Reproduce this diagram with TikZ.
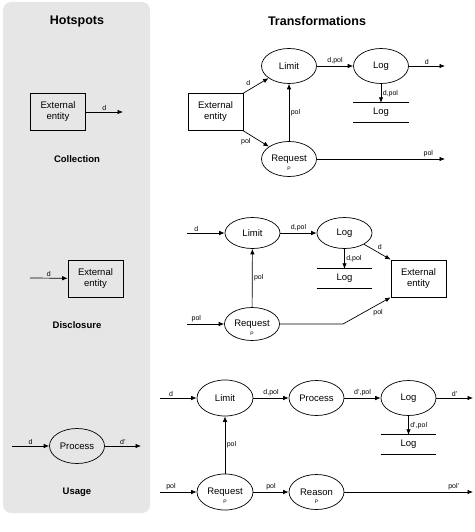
\documentclass[tikz,border=0pt]{standalone}
\usepackage{fontspec}
\setmainfont{Liberation Sans}
\usetikzlibrary{arrows.meta,shapes.geometric}
\definecolor{panelgray}{HTML}{E6E6E6}
\begin{document}
\begin{tikzpicture}[x=1pt,y=-1pt,
  every node/.style={font=\fontsize{9.5}{11}\selectfont},
  proc/.style={draw, ellipse, minimum width=55pt, minimum height=35pt, inner sep=0pt, line width=0.7pt},
  ent/.style={draw, rectangle, minimum width=55pt, minimum height=37pt, inner sep=1pt, align=center, line width=0.7pt},
  store/.style={minimum width=55pt, minimum height=19pt, inner sep=0pt},
  flow/.style={line width=0.7pt, -{Latex[length=5.5pt,width=4.5pt]}},
  lbl/.style={font=\fontsize{7}{8}\selectfont, inner sep=1.5pt},
  ptag/.style={font=\fontsize{5}{6}\selectfont, inner sep=0pt},
  title/.style={font=\fontsize{12.5}{14}\selectfont\bfseries},
  captxt/.style={font=\fontsize{9.5}{11}\selectfont\bfseries}]
\useasboundingbox (0,0) rectangle (474,532);
\fill[panelgray, rounded corners=8pt] (3,2) rectangle (150,513);

\node[title] (t1) at (77,21) {Hotspots};
\node[title] (t2) at (317,21) {Transformations};

% ---------- Hotspot: Collection
\node[ent] (h1) at (58,112) {External\\entity};
\coordinate (h1o) at (123,112);
\draw[flow] (h1) -- node[lbl, above] {d} (h1o);
\node[captxt] (c1) at (77,159) {Collection};

% ---------- Transformation 1
\node[ent] (e1) at (215.5,112) {External\\entity};
\node[proc] (l1) at (289,66) {Limit};
\node[proc] (g1) at (381,66) {Log};
\node[proc] (r1) at (289,159) {Request};
\node[ptag] (r1p) at (289,169) {P};
\node[store] (s1) at (381,112.5) {Log};
\draw[line width=0.7pt] (s1.north west) -- (s1.north east) (s1.south west) -- (s1.south east);
\coordinate (g1o) at (445,66);
\coordinate (r1o) at (445,159);
\draw[flow] (e1.north east) -- node[lbl, above left, pos=0.35] {d} (l1);
\draw[flow] (e1.south east) -- node[lbl, below left, pos=0.35] {pol} (r1);
\draw[flow] (r1) -- node[lbl, right, pos=0.5] {pol} (l1);
\draw[flow] (l1) -- node[lbl, above] {d,pol} (g1);
\draw[flow] (g1) -- node[lbl, above] {d} (g1o);
\draw[flow] (g1) -- node[lbl, right] {d,pol} (s1.north);
\draw[flow] (r1) -- node[lbl, above, pos=0.87] {pol} (r1o);

% ---------- Hotspot: Disclosure
\coordinate (h2i) at (30,278);
\node[ent] (h2) at (95.5,278.5) {External\\entity};
\draw[flow] (h2i) -- node[lbl, above] {d} (h2);
\node[captxt] (c2) at (77,325) {Disclosure};

% ---------- Transformation 2
\node[proc, minimum height=31pt] (l2) at (252.5,233) {Limit};
\node[proc, minimum height=31pt] (g2) at (344.5,233) {Log};
\node[proc, minimum height=33pt] (r2) at (252,324) {Request};
\node[ptag] (r2p) at (252,334) {P};
\node[store] (s2) at (344.5,278.5) {Log};
\draw[line width=0.7pt] (s2.north west) -- (s2.north east) (s2.south west) -- (s2.south east);
\node[ent] (e2) at (418.5,278.5) {External\\entity};
\coordinate (l2i) at (187,233);
\coordinate (r2i) at (187,324);
\coordinate (r2b) at (343,324);
\draw[flow] (l2i) -- node[lbl, above, pos=0.25] {d} (l2);
\draw[flow] (r2i) -- node[lbl, above, pos=0.25] {pol} (r2);
\draw[flow] (r2) -- node[lbl, right] {pol} (l2);
\draw[flow] (l2) -- node[lbl, above] {d,pol} (g2);
\draw[flow] (g2) -- node[lbl, right] {d,pol} (s2.north);
\draw[flow] (g2) -- node[lbl, above right, pos=0.45] {d} (e2.north west);
\draw[flow] (r2) -- (r2b) -- node[lbl, below right, pos=0.6] {pol} (e2.south west);

% ---------- Hotspot: Usage
\coordinate (h3i) at (12,446);
\coordinate (h3o) at (141,446);
\node[proc] (h3) at (77,446) {Process};
\draw[flow] (h3i) -- node[lbl, above] {d} (h3);
\draw[flow] (h3) -- node[lbl, above] {d'} (h3o);
\node[captxt] (c3) at (77,492) {Usage};

% ---------- Transformation 3
\node[proc, minimum width=56pt, minimum height=36pt] (l3) at (225,398) {Limit};
\node[proc] (p3) at (316.5,398) {Process};
\node[proc] (g3) at (408.5,398) {Log};
\node[proc, minimum width=56pt, minimum height=36pt] (r3) at (225,492) {Request};
\node[ptag] (r3p) at (225,502) {P};
\node[proc] (q3) at (316.5,492) {Reason};
\node[ptag] (q3p) at (316.5,502) {P};
\node[store] (s3) at (408.5,444.5) {Log};
\draw[line width=0.7pt] (s3.north west) -- (s3.north east) (s3.south west) -- (s3.south east);
\coordinate (l3i) at (160,398);
\coordinate (r3i) at (160,492);
\coordinate (g3o) at (473,398);
\coordinate (q3o) at (473,492);
\draw[flow] (l3i) -- node[lbl, above, pos=0.3] {d} (l3);
\draw[flow] (r3i) -- node[lbl, above, pos=0.3] {pol} (r3);
\draw[flow] (r3) -- node[lbl, right] {pol} (l3);
\draw[flow] (l3) -- node[lbl, above] {d,pol} (p3);
\draw[flow] (p3) -- node[lbl, above] {d',pol} (g3);
\draw[flow] (g3) -- node[lbl, above] {d'} (g3o);
\draw[flow] (g3) -- node[lbl, right] {d',pol} (s3.north);
\draw[flow] (r3) -- node[lbl, above] {pol} (q3);
\draw[flow] (q3) -- node[lbl, above, pos=0.85] {pol'} (q3o);
\end{tikzpicture}
\end{document}
